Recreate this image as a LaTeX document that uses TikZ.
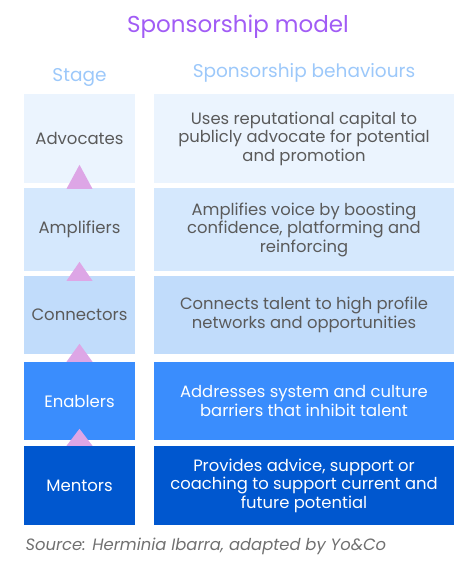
\documentclass[tikz,border=0pt]{standalone}
\usepackage{fontspec}
\setmainfont{Poppins}
\usepackage{tikz}

\definecolor{stepA}{HTML}{EBF4FE}
\definecolor{stepB}{HTML}{D5E8FD}
\definecolor{stepC}{HTML}{C1DCFB}
\definecolor{stepD}{HTML}{3A8DFD}
\definecolor{stepE}{HTML}{0057CF}
\definecolor{lilac}{HTML}{DDA6E6}
\definecolor{titlepurple}{HTML}{A15CF5}
\definecolor{headblue}{HTML}{9CC8FA}
\definecolor{textgrey}{HTML}{5A5A5A}
\definecolor{srcgrey}{HTML}{707070}

\begin{document}
\begin{tikzpicture}[x=1pt,y=-1pt,
  stagebox/.style={minimum width=111pt,inner sep=0pt,font=\fontsize{16.5}{19}\selectfont},
  behbox/.style={minimum width=300pt,inner sep=0pt,align=center,font=\fontsize{16.4}{18.5}\selectfont},
  tri/.style={fill=lilac}]
\useasboundingbox (0,0) rectangle (472,570);

\node[font=\fontsize{23}{27}\selectfont,text=titlepurple] (title) at (238,27) {Sponsorship model};
\node[font=\fontsize{18.5}{22}\selectfont,text=headblue] (hstage) at (79.5,77) {Stage};
\node[font=\fontsize{18.5}{22}\selectfont,text=headblue] (hbeh) at (304,73) {Sponsorship behaviours};

\node[stagebox,fill=stepA,minimum height=89pt,text=textgrey] (adv) at (79.5,138.5) {Advocates};
\node[stagebox,fill=stepB,minimum height=83pt,text=textgrey] (amp) at (79.5,229.5) {Amplifiers};
\node[stagebox,fill=stepC,minimum height=78pt,text=textgrey] (con) at (79.5,315) {Connectors};
\node[stagebox,fill=stepD,minimum height=78pt,text=white] (ena) at (79.5,401) {Enablers};
\node[stagebox,fill=stepE,minimum height=79pt,text=white] (men) at (79.5,485.5) {Mentors};

\node[behbox,fill=stepA,minimum height=89pt,text=textgrey] (advb) at (304,138.5) {Uses reputational capital to\\publicly advocate for potential\\and promotion};
\node[behbox,fill=stepB,minimum height=83pt,text=textgrey] (ampb) at (304,229.5) {Amplifies voice by boosting\\confidence, platforming and\\reinforcing};
\node[behbox,fill=stepC,minimum height=78pt,text=textgrey] (conb) at (304,315) {Connects talent to high profile\\networks and opportunities};
\node[behbox,fill=stepD,minimum height=78pt,text=white] (enab) at (304,401) {Addresses system and culture\\barriers that inhibit talent};
\node[behbox,fill=stepE,minimum height=79pt,text=white] (menb) at (304,485.5) {Provides advice, support or\\coaching to support current and\\future potential};

\fill[tri] ([xshift=-13pt,yshift=-1pt]amp.north) -- ([xshift=13pt,yshift=-1pt]amp.north) -- ([yshift=23pt]amp.north) -- cycle;
\fill[tri] ([xshift=-13pt,yshift=-5pt]con.north) -- ([xshift=13pt,yshift=-5pt]con.north) -- ([yshift=14pt]con.north) -- cycle;
\fill[tri] ([xshift=-13pt]ena.north) -- ([xshift=13pt]ena.north) -- ([yshift=18pt]ena.north) -- cycle;
\fill[tri] ([xshift=-13pt]men.north) -- ([xshift=13pt]men.north) -- ([yshift=17pt]men.north) -- cycle;

\node[anchor=west,font=\fontsize{16.4}{19}\selectfont\itshape,text=srcgrey] (src) at (22,546) {Source: Herminia Ibarra, adapted by Yo\&Co};
\end{tikzpicture}
\end{document}
